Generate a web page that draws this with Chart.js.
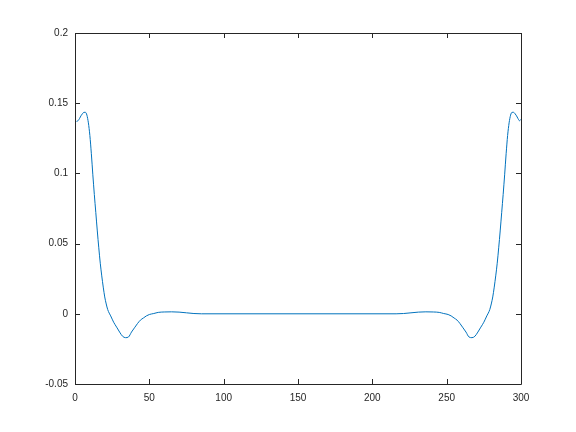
<!DOCTYPE html>
<html>
<head>
<meta charset="utf-8">
<script src="https://cdn.jsdelivr.net/npm/chart.js@4"></script>
<style>
  html, body { margin: 0; padding: 0; background: #fff; }
  #wrap { width: 576px; height: 432px; }
</style>
</head>
<body>
<div id="wrap"><canvas id="c" width="576" height="432"></canvas></div>
<script>
// values
const xs = [1, 2, 3, 4, 5, 6, 7, 8, 9, 10, 11, 12, 13, 14, 15, 16, 17, 18, 19, 20,
  21, 22, 23, 24, 25, 26, 28, 30, 32, 34, 36, 38, 40, 42, 44, 46, 48, 50, 53, 56,
  60, 65, 70, 75, 80, 85, 150, 216, 221, 226, 231, 236, 241, 245, 248, 251, 253,
  255, 257, 259, 261, 263, 265, 267, 269, 271, 273, 275, 276, 277, 278, 279, 280,
  281, 282, 283, 284, 285, 286, 287, 288, 289, 290, 291, 292, 293, 294, 295, 296,
  297, 298, 299, 300];
const ys = [0.137, 0.1375, 0.139, 0.141, 0.1425, 0.1435, 0.1435, 0.1415, 0.136, 0.127,
  0.114, 0.099, 0.085, 0.072, 0.059, 0.047, 0.036, 0.027, 0.019, 0.012,
  0.007, 0.003, 0.0005, -0.0015, -0.0038, -0.006, -0.0095, -0.013, -0.016, -0.017,
  -0.0165, -0.013, -0.010, -0.007, -0.0045, -0.003, -0.0015, -0.0005, 0.0002, 0.001,
  0.0013, 0.0014, 0.0012, 0.0007, 0.0002, 0.0, 0.0, 0.0, 0.0002, 0.0007, 0.0012, 0.0014,
  0.0013, 0.001, 0.0002, -0.0005, -0.0015, -0.003, -0.0045, -0.007, -0.010, -0.013,
  -0.0165, -0.017, -0.016, -0.013, -0.0095, -0.006, -0.0038, -0.0015, 0.0005, 0.003,
  0.007, 0.012, 0.019, 0.027, 0.036, 0.047, 0.059, 0.072, 0.085, 0.099, 0.114, 0.127,
  0.136, 0.1415, 0.1435, 0.1435, 0.1425, 0.141, 0.139, 0.1375, 0.1385];
const xTicks = [0, 50, 100, 150, 200, 250, 300];
const yTicks = [-0.05, 0, 0.05, 0.1, 0.15, 0.2];

const ink = '#262626';

// Octave-style box with inward ticks on all four sides
const boxTicks = {
  id: 'boxTicks',
  afterDraw(chart) {
    const { ctx, chartArea: a, scales } = chart;
    const len = 5;
    ctx.save();
    ctx.strokeStyle = ink;
    ctx.lineWidth = 1;
    ctx.beginPath();
    ctx.rect(Math.round(a.left) + 0.5, Math.round(a.top) + 0.5,
      Math.round(a.right - a.left), Math.round(a.bottom - a.top));
    xTicks.forEach(v => {
      const px = Math.round(scales.x.getPixelForValue(v)) + 0.5;
      ctx.moveTo(px, a.bottom); ctx.lineTo(px, a.bottom - len);
      ctx.moveTo(px, a.top); ctx.lineTo(px, a.top + len);
    });
    yTicks.forEach(v => {
      const py = Math.round(scales.y.getPixelForValue(v)) + 0.5;
      ctx.moveTo(a.left, py); ctx.lineTo(a.left + len, py);
      ctx.moveTo(a.right, py); ctx.lineTo(a.right - len, py);
    });
    ctx.stroke();
    ctx.restore();
  }
};

new Chart(document.getElementById('c'), {
  type: 'line',
  data: {
    datasets: [{
      data: xs.map((x, i) => ({ x: x, y: ys[i] })),
      borderColor: '#0072BD',
      borderWidth: 1,
      pointRadius: 0,
      cubicInterpolationMode: 'monotone',
      fill: false
    }]
  },
  options: {
    responsive: false,
    animation: false,
    layout: { padding: { top: 33, right: 55, left: 0, bottom: 0 } },
    plugins: { legend: { display: false }, tooltip: { enabled: false } },
    scales: {
      x: {
        type: 'linear', min: 0, max: 300,
        afterBuildTicks: s => { s.ticks = xTicks.map(v => ({ value: v })); },
        afterFit: s => { s.height = 48; },
        grid: { display: false, drawTicks: false },
        border: { display: false },
        ticks: { padding: 8, color: ink, font: { family: 'Liberation Sans', size: 10 }, maxRotation: 0 }
      },
      y: {
        type: 'linear', min: -0.05, max: 0.2,
        afterBuildTicks: s => { s.ticks = yTicks.map(v => ({ value: v })); },
        afterFit: s => { s.width = 75; },
        grid: { display: false, drawTicks: false },
        border: { display: false },
        ticks: {
          padding: 7, color: ink, font: { family: 'Liberation Sans', size: 10 },
          callback: v => String(Math.round(v * 100) / 100)
        }
      }
    }
  },
  plugins: [boxTicks]
});
</script>
</body>
</html>
